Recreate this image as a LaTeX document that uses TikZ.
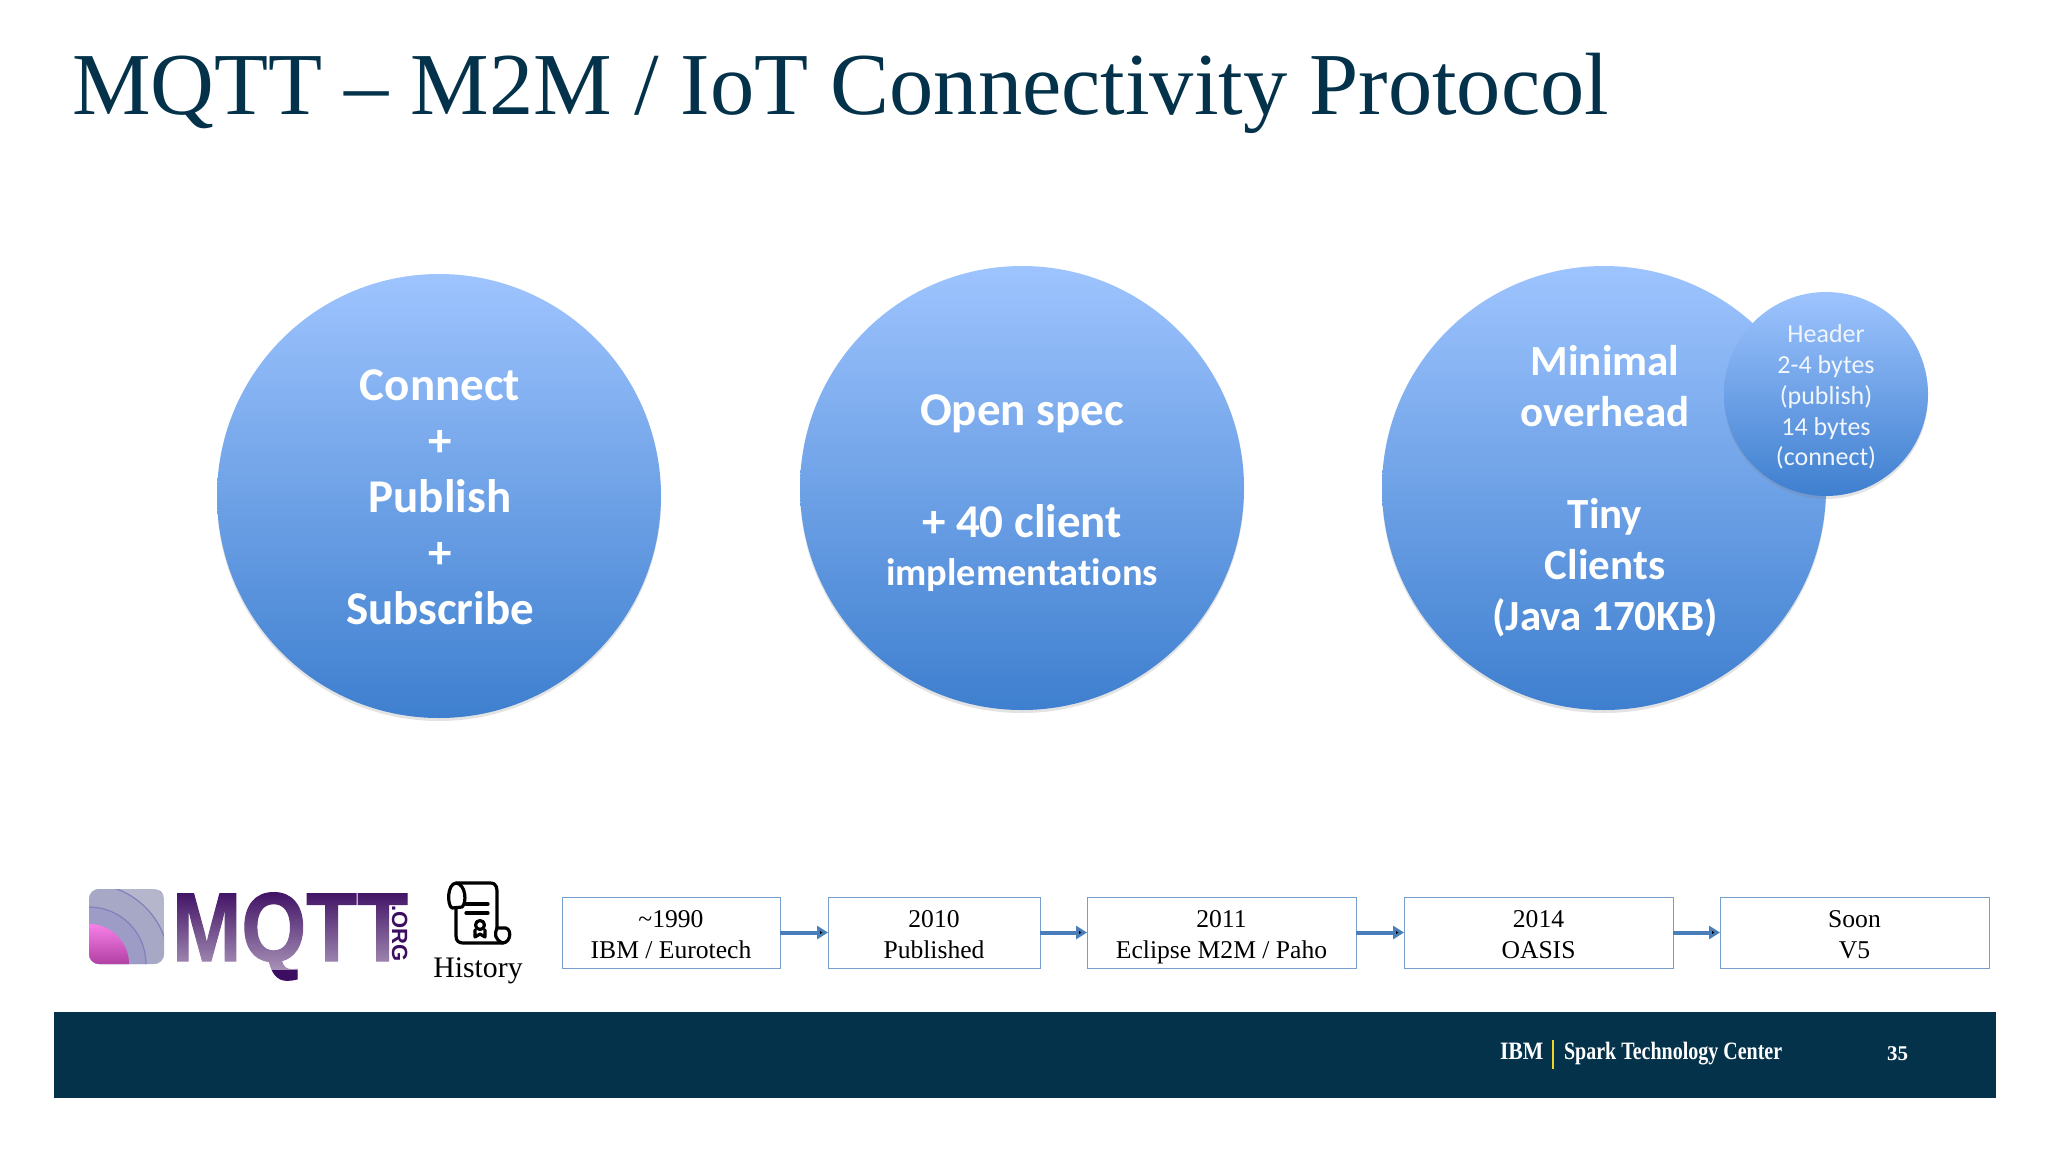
\documentclass[tikz,border=0pt]{standalone}
\usepackage{fontspec}
\setmainfont{Liberation Serif}
\newfontfamily\carlito[Ligatures=CommonOff]{Carlito}
\newfontfamily\logofont[FakeBold=1.2]{Liberation Sans Bold}
\newfontfamily\liberationsans{Liberation Sans}
\usetikzlibrary{shapes, calc, arrows.meta, positioning, shadows, fadings}
\definecolor{barblue}{HTML}{03324A}
\definecolor{edgeblue}{HTML}{4A7EBB}
\definecolor{logopurple}{HTML}{3D0D61}
\definecolor{ballT}{HTML}{9EC4FE}
\definecolor{ballM}{HTML}{8AB5F2}
\definecolor{ballB}{HTML}{3E7FCF}
\newcommand{\boxstrut}{\rule{0pt}{15pt}}

\begin{document}
\begin{tikzpicture}[x=0.5pt,y=-0.5pt,->,>={Triangle[length=5.5pt,width=6.5pt]},auto]
	\tikzset{every node/.style={inner sep=0pt,outer sep=0pt}}
	\tikzset{ball/.style={circle,minimum size=222pt,top color=ballT,middle color=ballM,bottom color=ballB,drop shadow={opacity=0.22,shadow xshift=0pt,shadow yshift=-1.5pt}}}
	\tikzset{balltext/.style={align=center,text=white,font=\carlito\bfseries\fontsize{23.5}{28}\selectfont}}
	\tikzset{stepbox/.style={rectangle,draw=edgeblue!75!white,line width=0.5pt,minimum height=35.5pt,align=center,fill=white,font=\fontsize{12.8}{15.7}\selectfont}}
	\tikzset{flow/.style={draw=edgeblue,line width=2pt,shorten >=0pt}}
	\useasboundingbox (0,0) rectangle (2048,1152);
	\fill[white] (0,0) rectangle (2048,1152);

	\node[anchor=base west,text=barblue,font=\fontsize{44.2}{50}\selectfont] (title) at (72,114) {MQTT -- M2M / IoT Connectivity Protocol};

	\node[ball] (c0) at (439,496) {};
	\node[balltext] (t0) at (440,497) {Connect\\+\\Publish\\+\\Subscribe};
	\node[ball] (c1) at (1022,488) {};
	\node[balltext] (t1) at (1022,493) {Open spec\\[28pt]+ 40 client\\[-4pt]{\fontsize{19.2}{24}\selectfont implementations}};
	\node[ball] (c2) at (1604,488) {};
	\node[balltext,font=\carlito\bfseries\fontsize{21.5}{25.5}\selectfont] (t2) at (1605,491) {Minimal\\overhead\\[25.5pt]Tiny\\Clients\\(Java 170KB)};
	\node[ball,minimum size=102pt] (c3) at (1826,394) {};
	\node[balltext,font=\carlito\fontsize{13}{15.4}\selectfont,text=white!88!ballM] (t3) at (1826,397) {Header\\2-4 bytes\\(publish)\\14 bytes\\(connect)};

	\node[stepbox,minimum width=109pt] (b0) at (671,932.5) {\boxstrut\textasciitilde 1990\\\strut IBM / Eurotech};
	\node[stepbox,minimum width=106pt,right=24pt of b0] (b1) {\boxstrut 2010\\\strut Published};
	\node[stepbox,minimum width=134.5pt,right=23.5pt of b1] (b2) {\boxstrut 2011\\\strut Eclipse M2M / Paho};
	\node[stepbox,minimum width=134.5pt,right=24pt of b2] (b3) {\boxstrut 2014\\\strut OASIS};
	\node[stepbox,minimum width=134.5pt,right=23.5pt of b3] (b4) {\boxstrut Soon\\\strut V5};
	\path[flow]
		(b0) edge (b1)
		(b1) edge (b2)
		(b2) edge (b3)
		(b3) edge (b4);

	\node[anchor=base,font=\fontsize{14.9}{18}\selectfont] (history) at (478,977) {History};
	\begin{scope}[-,draw=black,line width=1.6pt,line join=round,line cap=round]
		\draw (452,908) .. controls (447,905) and (447,884) .. (456,883) -- (490,883) .. controls (497,883) and (497,888) .. (497,894) -- (497,928);
		\draw (456,883) .. controls (466,884) and (467,903) .. (462,907) -- (452,908);
		\draw (456,908) -- (456,936) .. controls (456,941) and (459,943) .. (463,943) -- (503,943) .. controls (512,942) and (512,926) .. (503,928) -- (497,928);
		\draw (497,928) .. controls (494,934) and (495,940) .. (503,943);
		\draw (466,904) -- (488,904);
		\draw (466,913) -- (488,913);
		\draw (480,925) circle (4.5);
		\draw (475,930) -- (475,937) -- (480,934) -- (485,937) -- (485,930);
	\end{scope}

	\begin{scope}[-]
		\begin{scope}
			\clip[rounded corners=5pt] (89,889) rectangle (164,964);
			\fill[white!85!blue!60!gray] (89,889) rectangle (164,964);
			\fill[white!78!blue!55!gray] (89,964) circle (80);
			\fill[white!70!blue!55!gray] (89,964) circle (57);
			\draw[white!50!blue!50!gray,line width=0.6pt] (89,964) circle (102);
			\draw[white!50!blue!50!gray,line width=0.6pt] (89,964) circle (80);
			\draw[white!50!blue!50!gray,line width=0.6pt] (89,964) circle (57);
			\shade[top color=purple!25!magenta!50!white,bottom color=purple!70!blue!80!black] (89,964) circle (40);
		\end{scope}
		\node[anchor=base west,text=logopurple,font=\logofont\fontsize{49}{50}\selectfont] (logo) at (172,961) {\scalebox{0.85}[1]{MQTT}};
		\fill[white,fill opacity=0.55,path fading=north] (170,888) rectangle (412,970);
		\node[anchor=base west,rotate=-90,text=logopurple,font=\liberationsans\bfseries\fontsize{11}{14}\selectfont] (org) at (392,905) {.ORG};
	\end{scope}

	\fill[barblue] (53.5,1012) rectangle (1996,1098);
	\node[anchor=base west,text=white,font=\bfseries\fontsize{12.5}{14}\selectfont] (ibm) at (1500,1059) {\scalebox{0.87}[1]{IBM}};
	\node[anchor=base west,text=white,font=\bfseries\fontsize{12.5}{14}\selectfont] (spark) at (1564,1059) {\scalebox{0.8}[1]{Spark Technology Center}};
	\node[anchor=base west,text=white,font=\bfseries\fontsize{10.5}{14}\selectfont] (page) at (1887,1060) {35};
	\draw[-,draw=yellow!70!brown,line width=0.6pt] (1553,1040) -- (1553,1069);
\end{tikzpicture}
\end{document}
